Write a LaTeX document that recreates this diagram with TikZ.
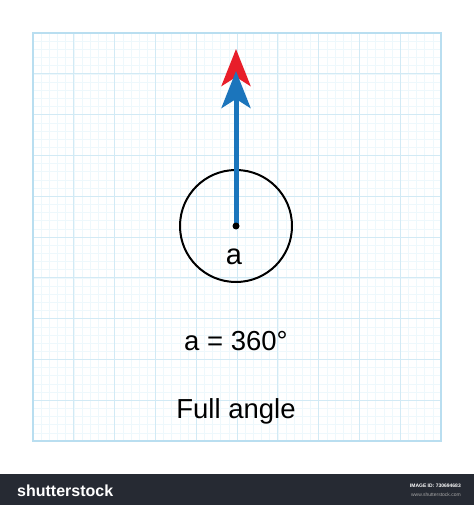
\documentclass[tikz,border=0pt]{standalone}
\usepackage{fontspec}
\setmainfont{Liberation Sans}
\usetikzlibrary{arrows.meta}
\definecolor{gridminor}{RGB}{238,248,252}
\definecolor{gridmajor}{RGB}{210,234,245}
\definecolor{gridborder}{RGB}{185,222,240}
\definecolor{arrowblue}{RGB}{27,117,188}
\definecolor{arrowred}{RGB}{232,30,42}
\definecolor{barcol}{RGB}{38,42,51}
\tikzset{
  minorline/.style={draw=gridminor, line width=0.5pt},
  majorline/.style={draw=gridmajor, line width=0.9pt},
  bigtext/.style={font=\fontsize{27.5}{32}\selectfont, anchor=base, inner sep=0pt},
  vecred/.style={draw=arrowred, line width=5pt, -{Stealth[length=37pt, width=29pt, inset=9pt, fill=arrowred]}},
  vecblue/.style={draw=arrowblue, line width=5pt, -{Stealth[length=37pt, width=29pt, inset=9pt, fill=arrowblue]}},
}
\begin{document}
\begin{tikzpicture}[x=1pt, y=-1pt]
\useasboundingbox (0,0) rectangle (474,505);
\fill[white] (0,0) rectangle (474,505);
% grid
\foreach \i in {0,...,50} {
  \draw[minorline] ({33+\i*8.16},33) -- ({33+\i*8.16},441);
  \draw[minorline] (33,{33+\i*8.16}) -- (441,{33+\i*8.16});
}
\foreach \i in {0,...,10} {
  \draw[majorline] ({33+\i*40.8},33) -- ({33+\i*40.8},441);
  \draw[majorline] (33,{33+\i*40.8}) -- (441,{33+\i*40.8});
}
\draw[draw=gridborder, line width=1.5pt] (33,33) rectangle (441,441);
% figure
\coordinate (c) at (236,226);
\coordinate (redtip) at (236,49);
\coordinate (bluetip) at (236,71);
\node[circle, draw=black, line width=2pt, minimum size=112pt, inner sep=0pt] (ring) at (c) {};
\draw[vecred] (c) -- (redtip);
\draw[vecblue] (c) -- (bluetip);
\node[circle, fill=black, inner sep=0pt, minimum size=7pt] (dot) at (c) {};
\node[bigtext, font=\fontsize{29}{34}\selectfont] (alabel) at (234,264) {a};
\node[bigtext] (eq) at (236,350) {a = 360°};
\node[bigtext] (title) at (236,418) {Full angle};
% bottom bar
\fill[barcol] (0,474) rectangle (474,505);
\node[anchor=base west, inner sep=0pt, text=white, font=\bfseries\fontsize{16}{18}\selectfont] (brand) at (17,496) {shutterstock};
\node[anchor=base east, inner sep=0pt, text=white, font=\bfseries\fontsize{5}{6}\selectfont] (imgid) at (461,487) {IMAGE ID: 730694683};
\node[anchor=base east, inner sep=0pt, text=gray!70, font=\fontsize{5}{6}\selectfont] (site) at (461,496) {www.shutterstock.com};
\end{tikzpicture}
\end{document}
